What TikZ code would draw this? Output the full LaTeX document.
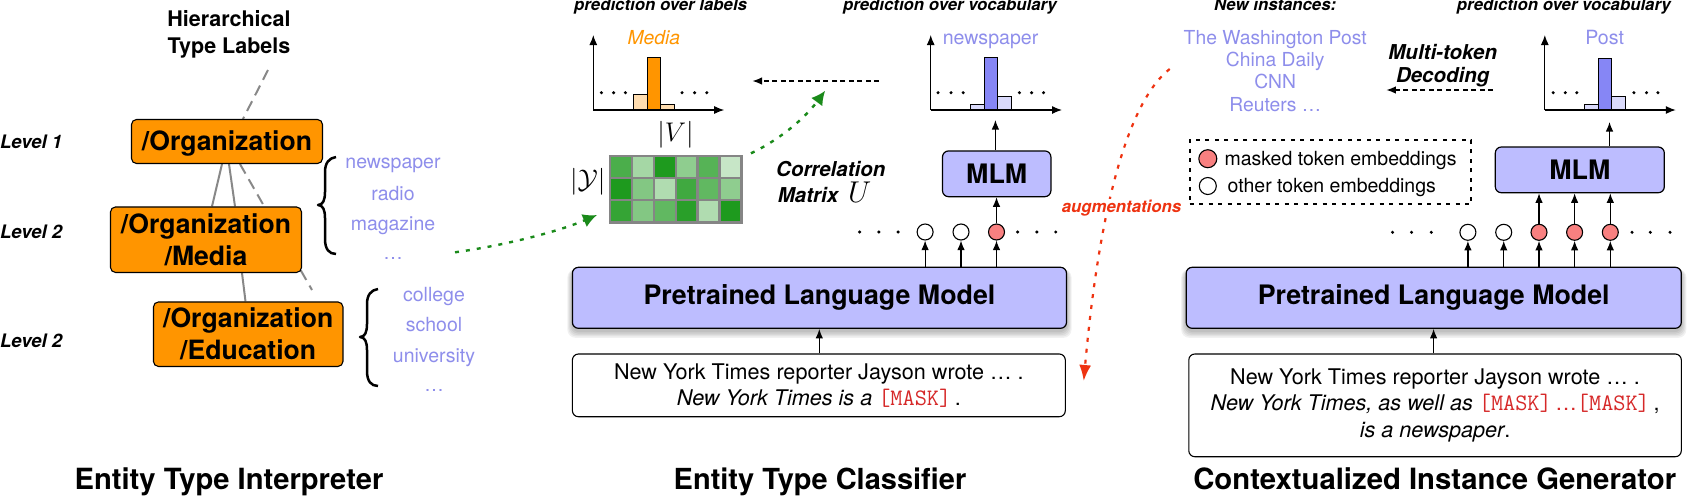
\documentclass[tikz,border=0pt]{standalone}
\usepackage{fontspec}
\setmainfont{TeX Gyre Heros}
\usetikzlibrary{arrows.meta,backgrounds,calc}
\newcommand{\fsz}[2]{\fontsize{#1}{#2}\selectfont}
\definecolor{orgfill}{HTML}{FF9500}
\definecolor{lorg}{HTML}{FFDDB0}
\definecolor{plmfill}{HTML}{BDBDFF}
\definecolor{wordblue}{HTML}{8E8EEB}
\definecolor{barblue}{HTML}{8686F5}
\definecolor{lblue}{HTML}{DADAFB}
\definecolor{dgreen}{HTML}{1A8A1A}
\definecolor{cellgreen}{HTML}{1E9A1E}
\definecolor{auggreen}{HTML}{888888}
\definecolor{augred}{HTML}{EE3311}
\definecolor{maskred}{HTML}{D62828}
\definecolor{tokred}{HTML}{F88080}
\tikzset{
  x=1pt,y=-1pt,
  lbl/.style={inner sep=0pt,outer sep=0pt,anchor=base,align=center},
  title/.style={lbl,font=\fsz{29}{34}\bfseries},
  head/.style={lbl,font=\fsz{16.8}{20}\bfseries\itshape},
  level/.style={lbl,anchor=base west,font=\fsz{18.6}{22}\bfseries\itshape},
  side/.style={lbl,font=\fsz{20.5}{24}\bfseries\itshape},
  word/.style={lbl,text=wordblue,font=\fsz{19.5}{23}},
  orgbox/.style={draw=black,line width=1.1pt,fill=orgfill,rounded corners=5pt,inner sep=0pt,align=center,font=\fsz{26.6}{32}\bfseries},
  bluebox/.style={draw=black,line width=1.2pt,fill=plmfill,rounded corners=6pt,inner sep=0pt,align=center,font=\fsz{26.8}{32}\bfseries},
  inbox/.style={draw=black,line width=1.1pt,fill=white,rounded corners=6pt,inner sep=0pt,align=center,font=\fsz{21.6}{26.5}},
  tok/.style={circle,draw=black,line width=1.1pt,fill=white,minimum size=16pt,inner sep=0pt},
  redtok/.style={tok,fill=tokred},
  arr/.style={line width=1.2pt,-{Latex[length=9.5pt,width=7.5pt]}},
  axis/.style={line width=1.2pt,-{Latex[length=10pt,width=8pt]}},
  dashline/.style={arr,dash pattern=on 5pt off 3.5pt},
  glink/.style={draw=auggreen,line width=2pt},
  gdash/.style={glink,dash pattern=on 11pt off 6.5pt},
  gdot/.style={draw=dgreen,line width=2.4pt,dash pattern=on 4pt off 7pt,-{Latex[length=14pt,width=14pt,fill=dgreen]}},
  rdot/.style={draw=augred,line width=2.2pt,dash pattern=on 4pt off 7pt,-{Latex[length=16pt,width=12pt,fill=augred]}},
  bar/.style={draw=black,line width=1.1pt},
  dotm/.style={fill=black},
  bracep/.style={line width=2.5pt,line join=round},
  grid/.style={draw=black!48,line width=2.4pt},
  legendbox/.style={draw=black,line width=2pt,dash pattern=on 4pt off 5.5pt,inner sep=0pt,minimum width=281.8pt,minimum height=64pt},
  shadowlayer/.style={fill=black,opacity=.055,rounded corners=8pt}
}
\newcommand{\hdots}[7]{% y then six x
  \foreach \xx in {#2,#3,#4,#5,#6,#7} {\fill[dotm] (\xx,#1) circle (1.7pt);}
}
\begin{document}
\begin{tikzpicture}
\useasboundingbox (0,0) rectangle (1697,496);

%%% LEFT PANEL
\node[lbl,font=\fsz{21.5}{27}\bfseries] (hier) at (229,26) {Hierarchical};
\node[lbl,font=\fsz{21.5}{27}\bfseries] (hier2) at (229,53) {Type Labels};
\node[orgbox,minimum width=191pt,minimum height=44pt] (org) at (227,141.5) {\raisebox{-8.5pt}[10pt][10pt]{/Organization}};
\node[orgbox,minimum width=191pt,minimum height=65.5pt] (media) at (206,239.7) {/Organization\\/Media};
\node[orgbox,minimum width=189.5pt,minimum height=64.5pt] (edu) at (248.2,334.2) {/Organization\\/Education};
\coordinate (hiertail) at (268,70);
\coordinate (dashend) at (312,290);
\begin{pgfonlayer}{background}
  \draw[gdash] (hiertail) -- ([xshift=16pt]org.north);
  \draw[glink] ([xshift=-5pt]org.south) -- ([xshift=6pt]media.north);
  \draw[glink] ([xshift=2pt]org.south) -- ([xshift=29pt]media.north);
  \draw[gdash] ([xshift=13pt]org.south) -- (dashend);
  \draw[glink] ([xshift=36pt]media.south) -- ([xshift=-2.7pt]edu.north);
\end{pgfonlayer}
\node[level] (l1) at (0,148) {Level 1};
\node[level] (l2) at (0,238) {Level 2};
\node[level] (l3) at (0,347) {Level 2};

\foreach \dx/\dy in {0/0,42/132} {
  \begin{scope}[shift={(\dx,\dy)}]
    \draw[bracep] (336,157) .. controls (329,158) and (325,163) .. (325,172) -- (325,192)
      .. controls (325,200) and (323,205) .. (318,205)
      .. controls (323,205) and (325,210) .. (325,218) -- (325,239)
      .. controls (325,249) and (329,254) .. (336,254);
  \end{scope}
}
\node[word] (w1) at (393,168) {newspaper};
\node[word] (w2) at (393,200) {radio};
\node[word] (w3) at (393,230) {magazine};
\node[word] (w4) at (393,259) {…};
\node[word] (w5) at (434,301.5) {college};
\node[word] (w6) at (434,331.5) {school};
\node[word] (w7) at (434,362) {university};
\node[word] (w8) at (434,391) {…};
\node[title,font=\fsz{29.2}{34}\bfseries] (t1) at (229,489) {Entity Type Interpreter};

%%% MIDDLE: chart 1
\node[head] (h1) at (660.6,10) {prediction over labels};
\draw[bar,fill=lorg] (633.2,110) rectangle (647.3,94.3);
\draw[bar,fill=orgfill] (647.3,110) rectangle (660.6,57.3);
\draw[bar,fill=lorg] (660.6,110) rectangle (674.6,104.3);
\coordinate (o1) at (593.3,110);
\draw[axis] (o1) -- (593.3,35);
\draw[axis] (o1) -- (724.2,110);
\hdots{92.7}{601.4}{613.6}{625.4}{682}{694.6}{706.8}
\node[lbl,text=orgfill,font=\fsz{19.3}{23}\itshape] (medialbl) at (653.9,44) {Media};

%%% chart 2
\node[head] (h2) at (949.9,10) {prediction over vocabulary};
\draw[bar,fill=lblue] (970.6,110) rectangle (984.3,104.3);
\draw[bar,fill=barblue] (984.3,110) rectangle (997.2,57.3);
\draw[bar,fill=lblue] (997.2,110) rectangle (1011.3,96.3);
\coordinate (o2) at (930.7,110);
\draw[axis] (o2) -- (930.7,35);
\draw[axis] (o2) -- (1062,110);
\hdots{92.7}{938}{951}{963.2}{1019.4}{1031.6}{1043.5}
\node[lbl,text=wordblue,font=\fsz{19.6}{23}] (nplbl) at (990.6,44) {newspaper};

\coordinate (d1s) at (879,81);
\coordinate (d1e) at (752.5,81);
\draw[dashline] (d1s) -- (d1e);

%%% matrix
\foreach \r/\vals in {0/{80,40,100,50,75,25},1/{100,55,35,85,70,50},2/{90,55,70,95,35,100}} {
  \foreach \v [count=\c from 0] in \vals {
    \fill[cellgreen!\v!white] (610+21.9*\c,155.7+22.2*\r) rectangle +(21.9,22.2);
  }
}
\foreach \c in {0,...,6} {\draw[grid] (610+21.9*\c,155.7) -- (610+21.9*\c,222.3);}
\foreach \r in {0,...,3} {\draw[grid] (608.8,155.7+22.2*\r) -- (742.6,155.7+22.2*\r);}
\node[lbl,scale=1.3] (vlbl) at (675.4,141.7) {\fsz{20.5}{24}$|V|$};
\node[lbl,scale=1.3] (ylbl) at (587.7,188.5) {\fsz{20.5}{24}$|\mathcal{Y}|$};
\node[side] (corr) at (830.8,176.7) {Correlation};
\node[lbl,anchor=base west,font=\fsz{20.5}{24}\bfseries\itshape] (matr) at (777.9,202.7) {Matrix};
\node[lbl,anchor=base west,scale=1.45] (ulbl) at (848,202.7) {\fsz{20.5}{24}$U$};

%%% green arrows
\coordinate (g1a) at (455,252.3);
\coordinate (g1b) at (597,215);
\coordinate (g2a) at (751,153.3);
\coordinate (g2b) at (825.2,90.7);
\draw[gdot] (g1a) .. controls (500,246) and (555,233) .. (g1b);
\draw[gdot] (g2a) .. controls (775,142) and (802,122) .. (g2b);

%%% MLM + tokens
\node[bluebox,minimum width=108.4pt,minimum height=45.7pt] (mlm1) at (996.7,173.8) {MLM};
\node[tok] (c11) at (925.1,232) {};
\node[tok] (c12) at (961,232) {};
\node[redtok] (c13) at (996.5,232) {};
\hdots{232}{859.6}{878.9}{898.1}{1017.6}{1036.8}{1055.7}
\coordinate (p1) at (995.4,120);
\draw[arr] (mlm1.north -| p1) -- (p1);
\draw[arr] (c13.north) -- (mlm1.south -| c13.north);

%%% PLM 1
\foreach \g in {1,...,5} {
  \fill[shadowlayer] (572.4-\g,267.3+2) rectangle (1066.5+\g,328.3+2.5+\g*1.4);
}
\node[bluebox,minimum width=494.1pt,minimum height=61pt] (plm1) at (819.45,297.8) {Pretrained Language Model};
\node[inbox,minimum width=492.9pt,minimum height=62.7pt] (in1) at (818.85,385.35) {New York Times reporter Jayson wrote … .\\{\itshape New York Times is a }{\color{maskred}\ttfamily\fsz{23.6}{26.5}[MASK]}\,.};
\draw[arr] (in1.north -| 819.3,0) -- (plm1.south -| 819.3,0);
\foreach \t in {c11,c12,c13} {\draw[arr] (plm1.north -| \t) -- (\t.south);}
\node[title] (t2) at (820,489) {Entity Type Classifier};

%%% red augmentation arrow
\coordinate (ra) at (1169.7,69);
\coordinate (rb) at (1083.7,381);
\draw[rdot] (ra) .. controls (1130,100) and (1100,200) .. (rb);
\node[lbl,text=augred,font=\fsz{16.8}{20}\bfseries\itshape,fill=white,inner sep=1pt] (aug) at (1121.5,212.5) {augmentations};

%%% RIGHT: new instances
\node[head] (h3) at (1275.2,10) {New instances:};
\node[lbl,text=wordblue,font=\fsz{19.3}{23}] (i1) at (1275.2,44) {The Washington Post};
\node[lbl,text=wordblue,font=\fsz{19.3}{23}] (i2) at (1275.2,66.7) {China Daily};
\node[lbl,text=wordblue,font=\fsz{19.3}{23}] (i3) at (1275.2,88.7) {CNN};
\node[lbl,text=wordblue,font=\fsz{19.3}{23}] (i4) at (1275.2,111) {Reuters …};
\node[side] (mt) at (1442.7,59.3) {Multi-token};
\node[side] (dec) at (1442.7,82.7) {Decoding};
\coordinate (d2s) at (1493,90);
\coordinate (d2e) at (1386.4,90);
\draw[dashline] (d2s) -- (d2e);

%%% chart 3
\node[head] (h4) at (1563.8,10) {prediction over vocabulary};
\draw[bar,fill=lblue] (1584.4,110) rectangle (1598.9,104.3);
\draw[bar,fill=barblue] (1598.9,110) rectangle (1611.8,58.3);
\draw[bar,fill=lblue] (1611.8,110) rectangle (1625.9,96.3);
\coordinate (o3) at (1544.8,110);
\draw[axis] (o3) -- (1544.8,35);
\draw[axis] (o3) -- (1675.8,110);
\hdots{92.7}{1553.2}{1565.3}{1576.8}{1633.9}{1646.5}{1657.9}
\node[lbl,text=wordblue,font=\fsz{19.6}{23}] (postlbl) at (1604.6,44) {Post};

%%% legend
\node[legendbox] (leg) at (1330.4,172) {};
\node[redtok,minimum size=18pt] (lr) at (1207.8,158.7) {};
\node[tok,minimum size=17pt] (lw) at (1207.8,186) {};
\node[lbl,anchor=base west,font=\fsz{19.5}{23}] (lrt) at (1224.5,165) {masked token embeddings};
\node[lbl,anchor=base west,font=\fsz{19.5}{23}] (lwt) at (1227.6,192) {other token embeddings};

%%% MLM 2
\node[bluebox,minimum width=169pt,minimum height=45.7pt] (mlm2) at (1579.8,169.85) {MLM};
\node[tok] (c21) at (1467.9,232.3) {};
\node[tok] (c22) at (1503.7,232.3) {};
\node[redtok] (c23) at (1539,232.3) {};
\node[redtok] (c24) at (1574.6,232.3) {};
\node[redtok] (c25) at (1610.3,232.3) {};
\hdots{232.3}{1392.5}{1411.5}{1431.3}{1632}{1650.3}{1670}
\coordinate (p2) at (1609.5,122);
\draw[arr] (mlm2.north -| p2) -- (p2);
\foreach \t in {c23,c24,c25} {\draw[arr] (\t.north) -- (mlm2.south -| \t.north);}

%%% PLM 2
\foreach \g in {1,...,5} {
  \fill[shadowlayer] (1186.2-\g,267.3+2) rectangle (1681.3+\g,328.3+2.5+\g*1.4);
}
\node[bluebox,minimum width=495.1pt,minimum height=61pt] (plm2) at (1433.75,297.8) {Pretrained Language Model};
\node[inbox,minimum width=492.5pt,minimum height=102.7pt] (in2) at (1435.05,405.35) {New York Times reporter Jayson wrote … .\\{\itshape New York Times, as well as }{\color{maskred}\ttfamily\fsz{23.6}{26.5}[MASK]}\,{\color{maskred}…}{\color{maskred}\ttfamily\fsz{23.6}{26.5}[MASK]}\,,\\{\itshape is a newspaper}.};
\draw[arr] (in2.north -| 1433.6,0) -- (plm2.south -| 1433.6,0);
\foreach \t in {c21,c22,c23,c24,c25} {\draw[arr] (plm2.north -| \t) -- (\t.south);}
\node[title,font=\fsz{29.3}{34}\bfseries] (t3) at (1434.7,489) {Contextualized Instance Generator};
\end{tikzpicture}
\end{document}
